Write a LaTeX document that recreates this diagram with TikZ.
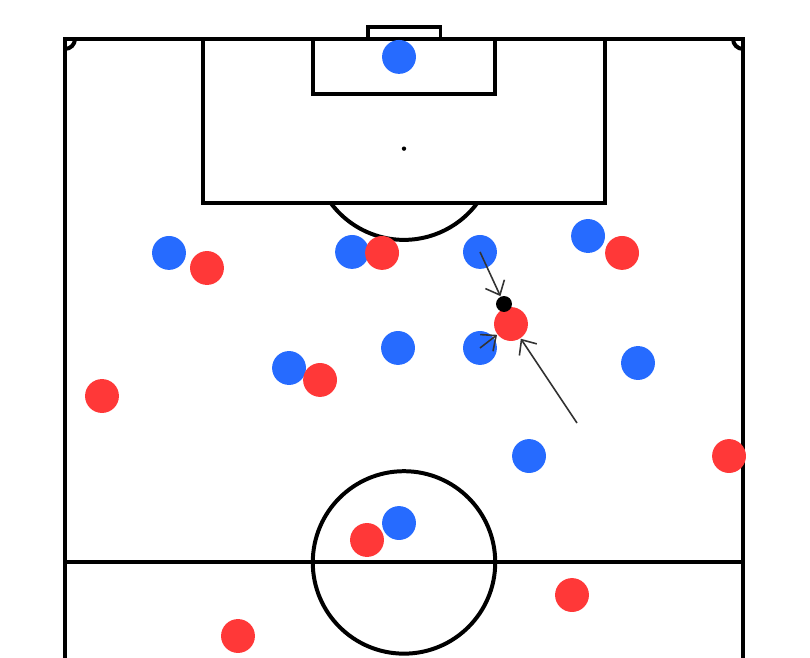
\documentclass[tikz,border=0pt]{standalone}
\usepackage{tikz}
\usetikzlibrary{arrows.meta}
\usetikzlibrary{positioning}

\begin{document}
\begin{tikzpicture}[scale = .1,
        pitchline/.style = {line width=0.4mm, black},
        blueplayer/.style = {circle, fill=teamblue, inner sep=0pt, minimum size=3.4mm},
        redplayer/.style = {circle, fill=teamred, inner sep=0pt, minimum size=3.4mm},
        ballnode/.style = {circle, fill=black, inner sep=0pt, minimum size=1.6mm},
        runarrow/.style = {line width=0.45pt, black!80, -{Straight Barb[length=1.2mm,width=2.1mm]}}]
            \definecolor{teamblue}{rgb}{0.15, 0.42, 1};
            \definecolor{teamred}{rgb}{1, 0.22, 0.22};
            \useasboundingbox (-6.52,3.91) rectangle (74.72,-61.99);
            \clip (-6.52,3.91) rectangle (74.72,-61.99);

            % pitch
            \draw [pitchline] (0,-110) -- (0,0) -- (68,0) -- (68,-110);
            \draw [pitchline] (0,-52.5) -- (68,-52.5);
            \draw [pitchline] (13.85,0) -- (13.85,-16.5) -- (54.15,-16.5) -- (54.15,0);
            \draw [pitchline] (24.85,0) -- (24.85,-5.5) -- (43.15,-5.5) -- (43.15,0);
            \draw [pitchline] (30.34,0) -- (30.34,1.2) -- (37.66,1.2) -- (37.66,0);
            \draw [pitchline] (34,-11) ++(-36.95:9.15) arc (-36.95:-143.05:9.15);
            \draw [pitchline] (34,-52.5) circle (9.15);
            \draw [pitchline] (0,-1) arc (-90:0:1);
            \draw [pitchline] (67,0) arc (180:270:1);
            \fill (34,-11) coordinate(spot) circle (0.22);

            % blue team
            \node [blueplayer] (b1) at (33.5,-1.8) {};
            \node [blueplayer] (b2) at (10.43,-21.46) {};
            \node [blueplayer] (b3) at (28.79,-21.36) {};
            \node [blueplayer] (b4) at (41.62,-21.36) {};
            \node [blueplayer] (b5) at (52.46,-19.76) {};
            \node [blueplayer] (b6) at (33.4,-30.99) {};
            \node [blueplayer] (b7) at (41.62,-30.99) {};
            \node [blueplayer] (b8) at (22.47,-33.0) {};
            \node [blueplayer] (b9) at (57.47,-32.5) {};
            \node [blueplayer] (b10) at (46.54,-41.83) {};
            \node [blueplayer] (b11) at (33.5,-48.55) {};

            % red team
            \node [redplayer] (r1) at (14.24,-22.97) {};
            \node [redplayer] (r2) at (31.8,-21.46) {};
            \node [redplayer] (r3) at (55.87,-21.46) {};
            \node [redplayer] (r4) at (44.73,-28.59) {};
            \node [redplayer] (r5) at (25.58,-34.2) {};
            \node [redplayer] (r6) at (3.71,-35.81) {};
            \node [redplayer] (r7) at (66.6,-41.83) {};
            \node [redplayer] (r8) at (30.29,-50.25) {};
            \node [redplayer] (r9) at (50.85,-55.77) {};
            \node [redplayer] (r10) at (17.35,-59.88) {};

            \node [ballnode] (ball) at (44.03,-26.58) {};
            \coordinate (runstart) at (51.35,-38.52);

            \draw [runarrow] (b4.center) -- (ball);
            \draw [runarrow] (b7.center) -- (r4);
            \draw [runarrow] (runstart) -- (r4);
        \end{tikzpicture}
\end{document}
